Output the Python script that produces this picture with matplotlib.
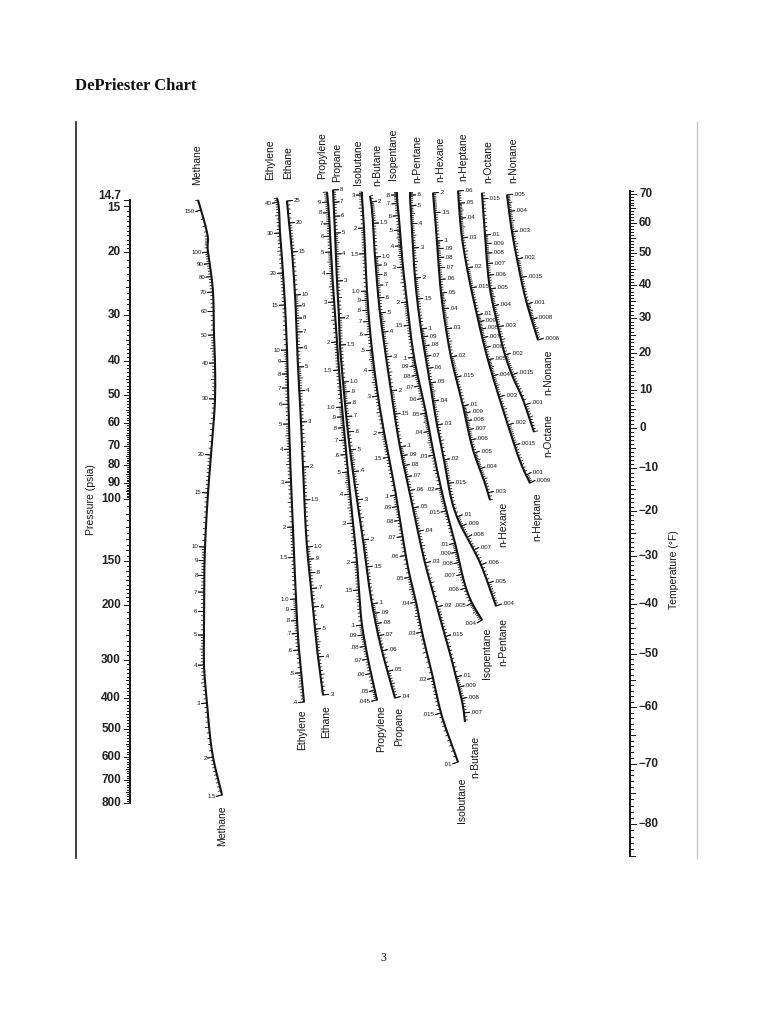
import numpy as np
import matplotlib.pyplot as plt

plt.rcParams['font.family'] = ['Liberation Sans', 'DejaVu Sans']

# ---------------- values ----------------
pressure_labels = [14.7, 15, 20, 30, 40, 50, 60, 70, 80, 90, 100, 150, 200, 300, 400, 500, 600, 700, 800]
temperature_labels = [70, 60, 50, 40, 30, 20, 10, 0, -10, -20, -30, -40, -50, -60, -70, -80]

names = ["Methane", "Ethylene", "Ethane", "Propylene", "Propane", "Isobutane", "n-Butane",
         "Isopentane", "n-Pentane", "n-Hexane", "n-Heptane", "n-Octane", "n-Nonane"]

methane_k = ["150", "100", "90", "80", "70", "60", "50", "40", "30", "20", "15", "10",
             "9", "8", "7", "6", "5", "4", "3", "2", "1.5"]
ethylene_k = ["40", "30", "20", "15", "10", "9", "8", "7", "6", "5", "4", "3", "2", "1.5",
              "1.0", ".9", ".8", ".7", ".6", ".5", ".4"]
ethane_k = ["25", "20", "15", "10", "9", "8", "7", "6", "5", "4", "3", "2", "1.5", "1.0",
            ".9", ".8", ".7", ".6", ".5", ".4", ".3"]
propylene_k = ["9", "8", "7", "6", "5", "4", "3", "2", "1.5", "1.0", ".9", ".8", ".7", ".6",
               ".5", ".4", ".3", ".2", ".15", ".1", ".09", ".08", ".07", ".06", ".05", ".045"]
propane_k = ["8", "7", "6", "5", "4", "3", "2", "1.5", "1.0", ".9", ".8", ".7", ".6", ".5",
             ".4", ".3", ".2", ".15", ".1", ".09", ".08", ".07", ".06", ".05", ".04"]
isobutane_k = ["3", "2", "1.5", "1.0", ".9", ".8", ".7", ".6", ".5", ".4", ".3", ".2", ".15",
               ".1", ".09", ".08", ".07", ".06", ".05", ".04", ".03", ".02", ".015", ".01"]
nbutane_k = ["2", "1.5", "1.0", ".9", ".8", ".7", ".6", ".5", ".4", ".3", ".2", ".15", ".1",
             ".09", ".08", ".07", ".06", ".05", ".04", ".03", ".02", ".015", ".01", ".009",
             ".008", ".007"]
isopentane_k = [".8", ".7", ".6", ".5", ".4", ".3", ".2", ".15", ".1", ".09", ".08", ".07",
                ".06", ".05", ".04", ".03", ".02", ".015", ".01", ".009", ".008", ".007",
                ".006", ".005", ".004"]
npentane_k = [".6", ".5", ".4", ".3", ".2", ".15", ".1", ".09", ".08", ".07", ".06", ".05",
              ".04", ".03", ".02", ".015", ".01", ".009", ".008", ".007", ".006", ".005", ".004"]
nhexane_k = [".2", ".15", ".1", ".09", ".08", ".07", ".06", ".05", ".04", ".03", ".02", ".015",
             ".01", ".009", ".008", ".007", ".006", ".005", ".004", ".003"]
nheptane_k = [".06", ".05", ".04", ".03", ".02", ".015", ".01", ".009", ".008", ".007", ".006",
              ".005", ".004", ".003", ".002", ".0015", ".001", ".0009"]
noctane_k = [".015", ".01", ".009", ".008", ".007", ".006", ".005", ".004", ".003", ".002",
             ".0015", ".001"]
nnonane_k = [".005", ".004", ".003", ".002", ".0015", ".001", ".0008", ".0006"]

# ---------------- geometry of the nomograph (page pixels) ----------------
pressure_cal = [(14.7, 200), (15, 206), (20, 252), (30, 315), (40, 361), (50, 395), (60, 423),
                (70, 446), (80, 465), (90, 483), (100, 499), (150, 561), (200, 605), (300, 660),
                (400, 698), (500, 729), (600, 757), (700, 780), (800, 803)]

paths = {
    "Methane": [(155, 198, 200), (150, 201, 210), (100, 208, 252), (70, 213, 292), (50, 214, 335),
                (40, 215, 363), (30, 215, 399), (20, 211, 455), (15, 208, 493), (10, 205, 547),
                (5, 204, 635), (4, 204, 665), (3, 207, 703), (2, 213, 757), (1.5, 222, 795)],
    "Ethylene": [(42, 277, 198), (40, 278, 202), (30, 280, 233), (20, 283, 273), (15, 285, 305),
                 (10, 287, 350), (5, 289, 424), (3, 291, 482), (2, 293, 527), (1.0, 296, 599),
                 (0.6, 299, 650), (0.4, 304, 702)],
    "Ethane": [(25, 287, 201), (20, 289, 223), (15, 292, 252), (10, 295, 295), (5, 298, 367),
               (3, 301, 422), (2, 303, 467), (1.0, 307, 547), (0.6, 313, 607), (0.4, 318, 657),
               (0.3, 323, 695)],
    "Propylene": [(10, 327, 192), (9, 328, 202), (5, 331, 252), (3, 334, 302), (2, 337, 342),
                  (1.5, 339, 370), (1.0, 342, 407), (0.5, 348, 472), (0.3, 353, 523),
                  (0.2, 357, 562), (0.15, 359, 590), (0.1, 362, 625), (0.07, 368, 659),
                  (0.045, 377, 700)],
    "Propane": [(8, 333, 190), (5, 335, 233), (3, 337, 281), (2, 339, 318), (1.5, 340, 345),
                (1.0, 343, 382), (0.5, 350, 450), (0.3, 357, 500), (0.2, 363, 540),
                (0.1, 372, 604), (0.06, 382, 651), (0.04, 395, 698)],
    "Isobutane": [(3.2, 362, 192), (3, 362, 195), (2, 364, 228), (1.0, 367, 291), (0.5, 372, 350),
                  (0.3, 378, 396), (0.2, 384, 432), (0.1, 396, 495), (0.05, 410, 577),
                  (0.04, 416, 602), (0.03, 422, 632), (0.02, 433, 678), (0.015, 441, 713),
                  (0.01, 458, 762)],
    "n-Butane": [(2.2, 370, 196), (2, 371, 202), (1.0, 375, 257), (0.5, 380, 313), (0.3, 386, 357),
                 (0.2, 391, 391), (0.1, 400, 447), (0.05, 413, 508), (0.03, 425, 563),
                 (0.02, 437, 607), (0.01, 456, 677), (0.007, 464, 713), (0.0065, 465, 722)],
    "Isopentane": [(0.85, 397, 192), (0.8, 397, 195), (0.5, 400, 230), (0.3, 403, 267),
                   (0.2, 407, 302), (0.1, 414, 357), (0.05, 426, 413), (0.03, 434, 455),
                   (0.02, 441, 488), (0.01, 455, 543), (0.005, 472, 603), (0.004, 482, 620)],
    "n-Pentane": [(0.65, 410, 192), (0.6, 410, 195), (0.3, 413, 248), (0.2, 415, 278),
                  (0.1, 421, 329), (0.05, 430, 383), (0.03, 437, 425), (0.02, 444, 460),
                  (0.01, 457, 517), (0.006, 481, 565), (0.004, 496, 606)],
    "n-Hexane": [(0.2, 433, 193), (0.1, 437, 241), (0.05, 441, 293), (0.03, 446, 329),
                 (0.02, 451, 357), (0.01, 463, 406), (0.005, 474, 453), (0.003, 488, 493),
                 (0.0028, 490, 500)],
    "n-Heptane": [(0.06, 458, 191), (0.03, 462, 238), (0.02, 467, 268), (0.01, 477, 315),
                  (0.005, 488, 360), (0.003, 499, 397), (0.002, 508, 425), (0.001, 526, 475),
                  (0.0009, 530, 483)],
    "n-Octane": [(0.016, 482, 193), (0.01, 485, 235), (0.005, 490, 289), (0.003, 498, 327),
                 (0.002, 505, 355), (0.0015, 512, 375), (0.001, 525, 405), (0.0008, 534, 432)],
    "n-Nonane": [(0.005, 507, 195), (0.003, 512, 232), (0.002, 517, 259), (0.001, 527, 304),
                 (0.0006, 538, 340)],
}
tick_labels = {"Methane": methane_k, "Ethylene": ethylene_k, "Ethane": ethane_k,
               "Propylene": propylene_k, "Propane": propane_k, "Isobutane": isobutane_k,
               "n-Butane": nbutane_k, "Isopentane": isopentane_k, "n-Pentane": npentane_k,
               "n-Hexane": nhexane_k, "n-Heptane": nheptane_k, "n-Octane": noctane_k,
               "n-Nonane": nnonane_k}
left_side = ["Methane", "Ethylene", "Propylene", "Isobutane", "Isopentane"]
top_name = {"Methane": (197, 165), "Ethylene": (270, 160), "Ethane": (288, 163),
            "Propylene": (322, 156), "Propane": (337, 162), "Isobutane": (358, 162),
            "n-Butane": (377, 165), "Isopentane": (393, 154), "n-Pentane": (417, 159),
            "n-Hexane": (440, 159), "n-Heptane": (463, 157), "n-Octane": (488, 162),
            "n-Nonane": (513, 160)}
bottom_name = {"Methane": (222, 826), "Ethylene": (302, 730), "Ethane": (326, 722),
               "Propylene": (381, 729), "Propane": (399, 726), "Isobutane": (462, 800),
               "n-Butane": (475, 757), "Isopentane": (487, 653), "n-Pentane": (503, 642),
               "n-Hexane": (503, 524), "n-Heptane": (537, 517), "n-Octane": (548, 436),
               "n-Nonane": (548, 372)}

INK = '#141414'


def make_path(anchors):
    a = sorted(anchors, key=lambda p: p[0])
    u = np.log10([p[0] for p in a])
    xs = np.array([p[1] for p in a], float)
    ys = np.array([p[2] for p in a], float)
    mx = np.gradient(xs, u)
    my = np.gradient(ys, u)

    def f(k):
        uu = np.clip(np.log10(k), u[0], u[-1])
        i = int(np.clip(np.searchsorted(u, uu) - 1, 0, len(u) - 2))
        h = u[i + 1] - u[i]
        t = (uu - u[i]) / h
        h00 = 2 * t**3 - 3 * t**2 + 1
        h10 = t**3 - 2 * t**2 + t
        h01 = -2 * t**3 + 3 * t**2
        h11 = t**3 - t**2
        X = h00 * xs[i] + h10 * h * mx[i] + h01 * xs[i + 1] + h11 * h * mx[i + 1]
        Y = h00 * ys[i] + h10 * h * my[i] + h01 * ys[i + 1] + h11 * h * my[i + 1]
        return X, Y
    return f, 10**u[0], 10**u[-1]


def minor_values(kmin, kmax):
    out = []
    for e in range(-5, 4):
        base = 10.0**e
        for lo, hi, step in [(1, 2, 0.05), (2, 5, 0.1), (5, 10, 0.2)]:
            for i in range(int(round((hi - lo) / step))):
                m = lo + i * step
                v = m * base
                if kmin * 0.999 <= v <= kmax * 1.001:
                    out.append((v, m))
    return out


fig = plt.figure(figsize=(7.68, 10.24), dpi=100)
ax = fig.add_axes([0, 0, 1, 1])
ax.set_xlim(0, 768)
ax.set_ylim(1024, 0)
ax.axis('off')

# page furniture
ax.text(75, 86, "DePriester Chart", fontsize=12, fontweight='bold',
        family=['Liberation Serif', 'DejaVu Serif'], ha='left', va='center', color='#111')
ax.text(383, 958, "3", fontsize=8.5, family=['Liberation Serif', 'DejaVu Serif'],
        ha='center', va='center', color='#111')
ax.plot([76, 76], [122, 858], color='#333', lw=1.3)
ax.plot([697, 697], [122, 858], color='#c8c8c8', lw=1.0)

# ---------------- pressure scale ----------------
pc_lp = np.log10([p for p, _ in pressure_cal])
pc_y = np.array([y for _, y in pressure_cal], float)


def press_y(p):
    return np.interp(np.log10(p), pc_lp, pc_y)


PX = 130
ax.plot([PX, PX], [press_y(14.7), press_y(800)], color=INK, lw=1.4)
pticks = []
pticks += [(v, 5) for v in np.arange(15, 20, 0.5)]
pticks += [(v, 5) for v in np.arange(20, 100, 1)]
pticks += [(v, 10) for v in np.arange(100, 200, 5)]
pticks += [(v, 50) for v in np.arange(200, 801, 10)]
for v, med in pticks:
    y = press_y(v)
    ln = 3.0
    if abs(v / med - round(v / med)) < 1e-6:
        ln = 4.5
    if any(abs(v - p) < 1e-6 for p in pressure_labels):
        ln = 6.5
    ax.plot([PX - ln, PX], [y, y], color=INK, lw=0.7)
ax.plot([PX - 6.5, PX], [press_y(14.7)] * 2, color=INK, lw=0.7)
for p in pressure_labels:
    dy = {14.7: -4, 15: 2}.get(p, 0)
    txt = "14.7" if p == 14.7 else str(int(p))
    ax.text(PX - 9, press_y(p) + dy, txt, fontsize=8.5, fontweight='bold',
            ha='right', va='center', color='#222')
ax.text(91, 500, "Pressure (psia)", rotation=90, fontsize=7.5, ha='center', va='center',
        color=INK)

# ---------------- temperature scale ----------------
def temp_y(t):
    return 194 + 630 * (1 / (t + 392) - 1 / 462) / (1 / 312 - 1 / 462)


TX = 630
ax.plot([TX, TX], [temp_y(71), temp_y(-85)], color=INK, lw=1.4)
for t in range(71, -86, -1):
    ln = 3.0
    if t % 5 == 0:
        ln = 4.5
    if t % 10 == 0:
        ln = 6.0
    ax.plot([TX, TX + ln], [temp_y(t)] * 2, color=INK, lw=0.7)
for t in temperature_labels:
    txt = str(t) if t >= 0 else '\u2212' + str(-t)
    ax.text(TX + 9, temp_y(t), txt, fontsize=8.5, fontweight='bold', ha='left', va='center',
            color='#222')
ax.text(674, 570, "Temperature (\u00b0F)", rotation=90, fontsize=7.5, ha='center',
        va='center', color=INK)

# ---------------- component scales ----------------
for name in names:
    f, kmin, kmax = make_path(paths[name])
    ks = np.logspace(np.log10(kmin), np.log10(kmax), 300)
    pts = np.array([f(k) for k in ks])
    ax.plot(pts[:, 0], pts[:, 1], color=INK, lw=1.5, solid_capstyle='butt')

    side = -1 if name in left_side else 1
    labelled = [float(s) for s in tick_labels[name]]

    def normal(k):
        x0, y0 = f(k * 1.01)
        x1, y1 = f(k / 1.01)
        dx, dy = x1 - x0, y1 - y0
        n = np.hypot(dx, dy)
        dx, dy = dx / n, dy / n
        return (-dy, dx) if side < 0 else (dy, -dx)

    for v, m in minor_values(kmin, kmax):
        ln = 2.5
        if abs(m * 2 - round(m * 2)) < 1e-6:
            ln = 3.8
        if any(abs(v - L) / L < 1e-6 for L in labelled):
            ln = 5.5
        x, y = f(v)
        nx, ny = normal(v)
        ax.plot([x, x + nx * ln], [y, y + ny * ln], color=INK, lw=0.6)

    for s, L in zip(tick_labels[name], labelled):
        x, y = f(L)
        nx, ny = normal(L)
        ax.plot([x, x + nx * 5.5], [y, y + ny * 5.5], color=INK, lw=0.7)
        ax.text(x + nx * 6.5, y + ny * 6.5, s, fontsize=4.4, ha='right' if side < 0 else 'left',
                va='center', color=INK)

    tx, ty = top_name[name]
    ax.text(tx, ty, name, rotation=90, fontsize=7.5, ha='center', va='center', color=INK)
    bx, by = bottom_name[name]
    ax.text(bx, by, name, rotation=90, fontsize=7.5, ha='center', va='center', color=INK)

fig.savefig("out.png", dpi=100, facecolor='white')
